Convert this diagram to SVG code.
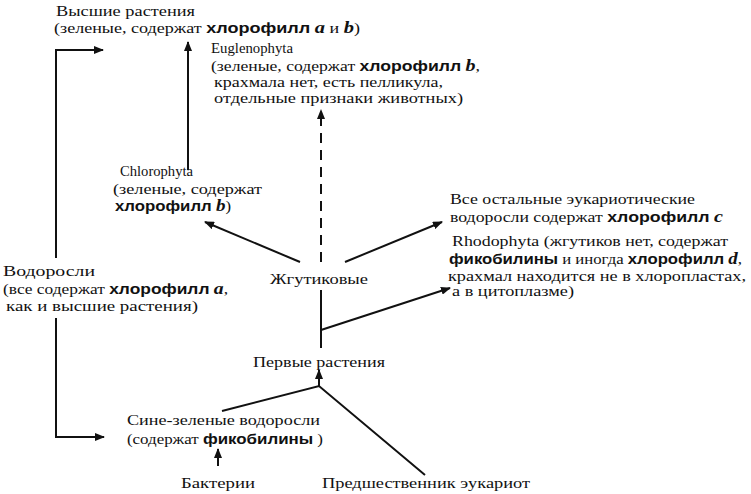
<svg xmlns="http://www.w3.org/2000/svg" width="751" height="494" viewBox="0 0 751 494">
<style>
text{font-family:"Liberation Serif","DejaVu Serif",serif;font-size:15px;fill:#111}
.b{font-weight:bold;font-family:"Liberation Sans",sans-serif}
.i{font-weight:bold;font-style:italic;font-size:17px}
.l{stroke:#111;stroke-width:2;fill:none}
</style>
<defs><marker id="a" markerWidth="10" markerHeight="8" refX="9" refY="4" orient="auto" markerUnits="userSpaceOnUse"><path d="M0,0L10,4L0,8z" fill="#111"/></marker></defs>
<g id="connectors">
<path class="l" d="M56,258V50H103" marker-end="url(#a)"/>
<path class="l" d="M56,318V437H104" marker-end="url(#a)"/>
<path class="l" d="M188,170V42" marker-end="url(#a)"/>
<path class="l" d="M321,262V110" stroke-dasharray="10,7" marker-end="url(#a)"/>
<path class="l" d="M300,262L205,222" marker-end="url(#a)"/>
<path class="l" d="M345,262L442,222" marker-end="url(#a)"/>
<path class="l" d="M321,290V348"/>
<path class="l" d="M321,330L450,288" marker-end="url(#a)"/>
<path class="l" d="M319,386V370" marker-end="url(#a)"/>
<path class="l" d="M222,411L319,386L425,475"/>
<path class="l" d="M218,466V449" marker-end="url(#a)"/>
</g>
<g id="higher"><text x="56" y="16" textLength="139" lengthAdjust="spacingAndGlyphs">Высшие растения</text>
<text x="54" y="33" textLength="306" lengthAdjust="spacingAndGlyphs">(зеленые, содержат <tspan class="b">хлорофилл</tspan> <tspan class="i">a</tspan> и <tspan class="i">b</tspan>)</text></g>
<g id="eugleno"><text x="211" y="53" textLength="82" lengthAdjust="spacingAndGlyphs">Euglenophyta</text>
<text x="211" y="71" textLength="269" lengthAdjust="spacingAndGlyphs">(зеленые, содержат <tspan class="b">хлорофилл</tspan> <tspan class="i">b</tspan>,</text>
<text x="214" y="87" textLength="229" lengthAdjust="spacingAndGlyphs">крахмала нет, есть пелликула,</text>
<text x="214" y="103" textLength="249" lengthAdjust="spacingAndGlyphs">отдельные признаки животных)</text></g>
<g id="chloro"><text x="120" y="176" textLength="73" lengthAdjust="spacingAndGlyphs">Chlorophyta</text>
<text x="113" y="194" textLength="149" lengthAdjust="spacingAndGlyphs">(зеленые, содержат</text>
<text x="115" y="211" textLength="116" lengthAdjust="spacingAndGlyphs"><tspan class="b">хлорофилл</tspan> <tspan class="i">b</tspan>)</text></g>
<g id="others"><text x="450" y="204" textLength="245" lengthAdjust="spacingAndGlyphs">Все остальные эукариотические</text>
<text x="450" y="222" textLength="273" lengthAdjust="spacingAndGlyphs">водоросли  содержат <tspan class="b">хлорофилл</tspan> <tspan class="i">c</tspan></text></g>
<g id="rhodo"><text x="452" y="246" textLength="276" lengthAdjust="spacingAndGlyphs">Rhodophyta (жгутиков нет, содержат</text>
<text x="449" y="264" textLength="293" lengthAdjust="spacingAndGlyphs"><tspan class="b">фикобилины</tspan> и иногда <tspan class="b">хлорофилл</tspan> <tspan class="i">d</tspan>,</text>
<text x="448" y="281" textLength="298" lengthAdjust="spacingAndGlyphs">крахмал находится не в хлоропластах,</text>
<text x="452" y="296" textLength="122" lengthAdjust="spacingAndGlyphs">а в цитоплазме)</text></g>
<g id="algae"><text x="3" y="276" textLength="92" lengthAdjust="spacingAndGlyphs">Водоросли</text>
<text x="3" y="294" textLength="225" lengthAdjust="spacingAndGlyphs">(все содержат <tspan class="b">хлорофилл</tspan> <tspan class="i">a</tspan>,</text>
<text x="6" y="311" textLength="192" lengthAdjust="spacingAndGlyphs">как и высшие растения)</text></g>
<g id="flag"><text x="270" y="284" textLength="98" lengthAdjust="spacingAndGlyphs">Жгутиковые</text></g>
<g id="first"><text x="253" y="367" textLength="132" lengthAdjust="spacingAndGlyphs">Первые растения</text></g>
<g id="cyano"><text x="127" y="425" textLength="193" lengthAdjust="spacingAndGlyphs">Сине-зеленые водоросли</text>
<text x="127" y="444" textLength="196" lengthAdjust="spacingAndGlyphs">(содержат <tspan class="b">фикобилины</tspan> )</text></g>
<g id="bact"><text x="181" y="488" textLength="74" lengthAdjust="spacingAndGlyphs">Бактерии</text></g>
<g id="euk"><text x="322" y="488" textLength="208" lengthAdjust="spacingAndGlyphs">Предшественник эукариот</text></g>
</svg>
